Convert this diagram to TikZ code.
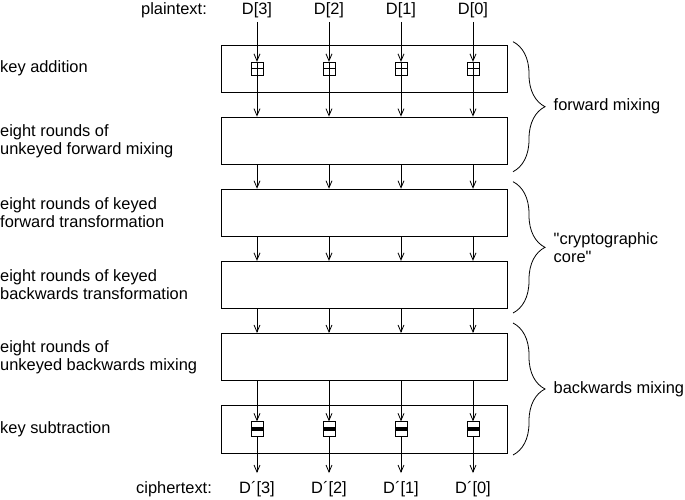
\documentclass[tikz,border=0pt]{standalone}
\usepackage{fontspec}
\setmainfont{Liberation Sans}[Ligatures=TeXOff]
\usetikzlibrary{positioning,arrows.meta,decorations.pathreplacing}

\begin{document}
\begin{tikzpicture}[x=1pt, y=-1pt, font=\fontsize{16.4pt}{18pt}\selectfont,
	stage/.style={draw, line width=0.8pt, minimum width=286pt, minimum height=47.5pt, inner sep=0pt},
	flow/.style={line width=0.8pt, -{Straight Barb[length=7pt, width=6pt]}},
	addop/.style={draw, line width=0.7pt, fill=white, minimum width=12pt, minimum height=13pt, inner sep=0pt,
		path picture={\draw[black, line width=0.7pt] (path picture bounding box.north) -- (path picture bounding box.south)
			(path picture bounding box.west) -- (path picture bounding box.east);}},
	subop/.style={draw, line width=0.7pt, fill=white, minimum width=12pt, minimum height=15pt, inner sep=0pt,
		path picture={\fill[black] ([yshift=2.2pt]path picture bounding box.west) rectangle ([yshift=-2.2pt]path picture bounding box.east);}},
	steptext/.style={anchor=west, align=left, inner sep=0pt},
	phase/.style={decorate, decoration={brace, amplitude=32pt}, line width=0.8pt},
	phasetext/.style={anchor=west, xshift=37pt, align=left}]
	\useasboundingbox (0,0) rectangle (685,500);
	\coordinate (edge) at (0,0);
	\coordinate (top) at (0,15);
	\coordinate (bot) at (0,493);

	\node[stage] (b1) at (364,68.7) {};
	\node[stage, below=23.8pt of b1] (b2) {};
	\node[stage, below=23.8pt of b2] (b3) {};
	\node[stage, below=23.8pt of b3] (b4) {};
	\node[stage, below=23.8pt of b4] (b5) {};
	\node[stage, below=23.8pt of b5] (b6) {};

	\node[steptext] (t1) at (b1 -| edge) {key addition};
	\node[steptext] (t2) at (b2 -| edge) {eight rounds of\\unkeyed forward mixing};
	\node[steptext] (t3) at (b3 -| edge) {eight rounds of keyed\\forward transformation};
	\node[steptext] (t4) at (b4 -| edge) {eight rounds of keyed\\backwards transformation};
	\node[steptext] (t5) at (b5 -| edge) {eight rounds of\\unkeyed backwards mixing};
	\node[steptext] (t6) at (b6 -| edge) {key subtraction};

	\node[addop] (p3) at (257,68.7) {};
	\node[addop, right=59.3pt of p3] (p2) {};
	\node[addop, right=59.3pt of p2] (p1) {};
	\node[addop, right=59.3pt of p1] (p0) {};
	\node[subop] (m3) at (p3 |- b6) {};
	\node[subop] (m2) at (p2 |- b6) {};
	\node[subop] (m1) at (p1 |- b6) {};
	\node[subop] (m0) at (p0 |- b6) {};

	\node[anchor=base] (ptxt) at (174,15) {plaintext:};
	\node[anchor=base] (in3) at (p3 |- top) {D[3]};
	\node[anchor=base] (in2) at (p2 |- top) {D[2]};
	\node[anchor=base] (in1) at (p1 |- top) {D[1]};
	\node[anchor=base] (in0) at (p0 |- top) {D[0]};
	\node[anchor=base] (ctxt) at (174,493) {ciphertext:};
	\node[anchor=base, inner ysep=7.7pt] (out3) at (p3 |- bot) {D´[3]};
	\node[anchor=base, inner ysep=7.7pt] (out2) at (p2 |- bot) {D´[2]};
	\node[anchor=base, inner ysep=7.7pt] (out1) at (p1 |- bot) {D´[1]};
	\node[anchor=base, inner ysep=7.7pt] (out0) at (p0 |- bot) {D´[0]};

	\path[flow] (in3) edge (p3) (p3) edge (p3 |- b2.north) (p3 |- b2.south) edge (p3 |- b3.north)
		(p3 |- b3.south) edge (p3 |- b4.north) (p3 |- b4.south) edge (p3 |- b5.north)
		(p3 |- b5.south) edge (m3) (m3) edge (out3);
	\path[flow] (in2) edge (p2) (p2) edge (p2 |- b2.north) (p2 |- b2.south) edge (p2 |- b3.north)
		(p2 |- b3.south) edge (p2 |- b4.north) (p2 |- b4.south) edge (p2 |- b5.north)
		(p2 |- b5.south) edge (m2) (m2) edge (out2);
	\path[flow] (in1) edge (p1) (p1) edge (p1 |- b2.north) (p1 |- b2.south) edge (p1 |- b3.north)
		(p1 |- b3.south) edge (p1 |- b4.north) (p1 |- b4.south) edge (p1 |- b5.north)
		(p1 |- b5.south) edge (m1) (m1) edge (out1);
	\path[flow] (in0) edge (p0) (p0) edge (p0 |- b2.north) (p0 |- b2.south) edge (p0 |- b3.north)
		(p0 |- b3.south) edge (p0 |- b4.north) (p0 |- b4.south) edge (p0 |- b5.north)
		(p0 |- b5.south) edge (m0) (m0) edge (out0);

	\draw[phase] (513,41.7) -- node[phasetext] (fwd) {forward mixing} (513,171.7);
	\draw[phase] (513,181.7) -- node[phasetext] (core) {"cryptographic\\core"} (513,313);
	\draw[phase] (513,323) -- node[phasetext] (bwd) {backwards mixing} (513,455);
\end{tikzpicture}
\end{document}
